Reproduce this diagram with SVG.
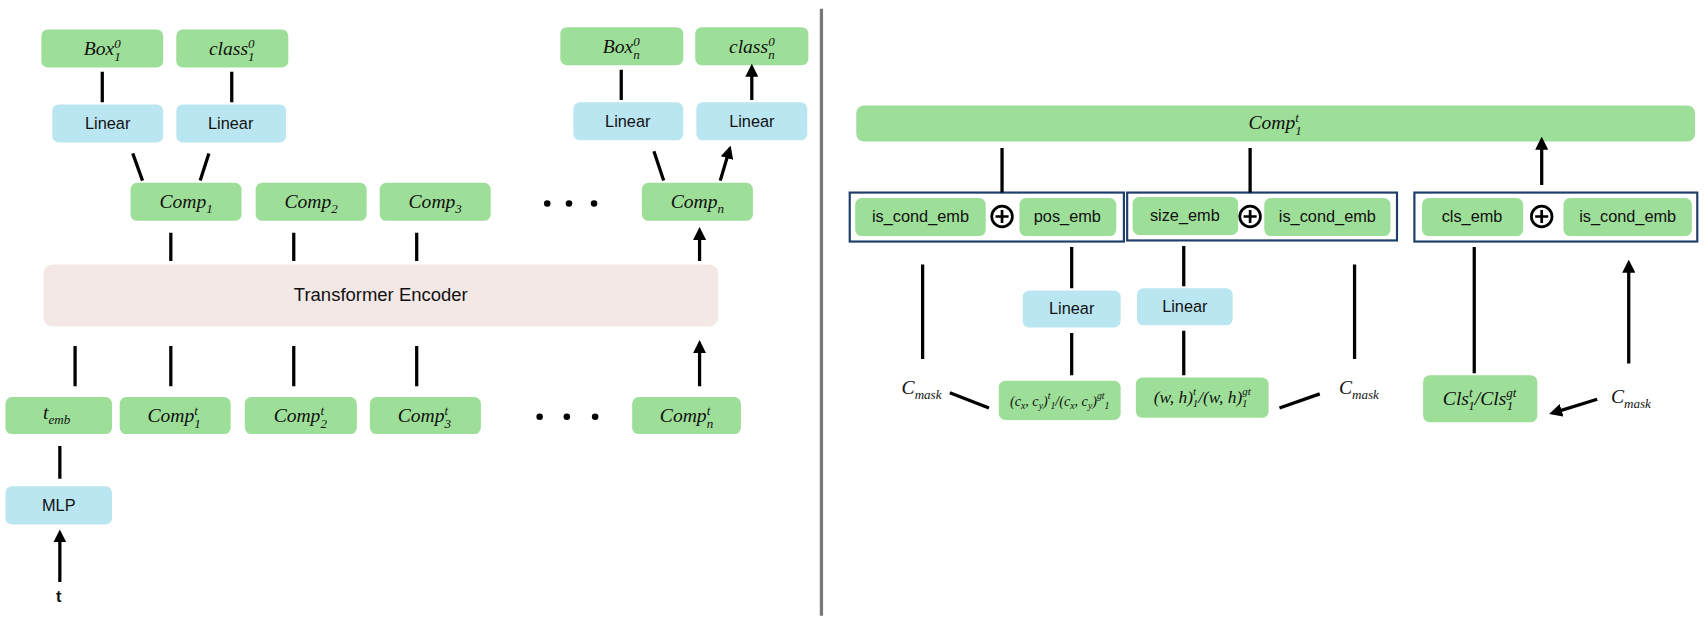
<svg xmlns="http://www.w3.org/2000/svg" width="1706" height="624" viewBox="0 0 1706 624">
<style>
.g{fill:#9ddf98}.b{fill:#b9e6f1}
.s{font-family:"Liberation Sans",Arial,sans-serif;font-size:15px;fill:#111;text-anchor:middle}
.m{font-family:"Liberation Serif","Times New Roman",serif;font-style:italic;font-size:18px;fill:#111;text-anchor:middle}
.sub{font-size:12px}
.ar{stroke:#000;stroke-width:3;fill:none;marker-end:url(#ah)}
.ob{fill:none;stroke:#1f3f6b;stroke-width:2}
</style>
<defs><marker id="ah" markerWidth="4" markerHeight="4" refX="2.2" refY="2" orient="auto"><path d="M0,0L4,2L0,4z" fill="#000"/></marker></defs>
<rect width="1706" height="624" fill="#fff"/>
<g transform="scale(1.088)">
<g id="left">
<g id="box1"><rect class="g" x="38" y="27" width="112" height="35" rx="6"/><text class="m" x="94" y="51">Box<tspan class="sub" dy="5">1</tspan><tspan class="sub" dx="-6" dy="-12">0</tspan></text></g>
<g id="class1"><rect class="g" x="162" y="27" width="103" height="35" rx="6"/><text class="m" x="213" y="51">class<tspan class="sub" dy="5">1</tspan><tspan class="sub" dx="-6" dy="-12">0</tspan></text></g>
<g id="boxn"><rect class="g" x="515" y="25" width="113" height="35" rx="6"/><text class="m" x="571" y="49">Box<tspan class="sub" dy="5">n</tspan><tspan class="sub" dx="-6" dy="-12">0</tspan></text></g>
<g id="classn"><rect class="g" x="639" y="25" width="104" height="35" rx="6"/><text class="m" x="691" y="49">class<tspan class="sub" dy="5">n</tspan><tspan class="sub" dx="-6" dy="-12">0</tspan></text></g>
<g id="lin1"><rect class="b" x="48" y="96" width="102" height="35" rx="6"/><text class="s" x="99" y="119">Linear</text></g>
<g id="lin2"><rect class="b" x="162" y="96" width="101" height="35" rx="6"/><text class="s" x="212" y="119">Linear</text></g>
<g id="lin3"><rect class="b" x="527" y="94" width="101" height="35" rx="6"/><text class="s" x="577" y="117">Linear</text></g>
<g id="lin4"><rect class="b" x="640" y="94" width="102" height="35" rx="6"/><text class="s" x="691" y="117">Linear</text></g>
<g id="comp1"><rect class="g" x="120" y="168" width="102" height="35" rx="6"/><text class="m" x="171" y="191">Comp<tspan class="sub" dy="5">1</tspan></text></g>
<g id="comp2"><rect class="g" x="235" y="168" width="102" height="35" rx="6"/><text class="m" x="286" y="191">Comp<tspan class="sub" dy="5">2</tspan></text></g>
<g id="comp3"><rect class="g" x="349" y="168" width="102" height="35" rx="6"/><text class="m" x="400" y="191">Comp<tspan class="sub" dy="5">3</tspan></text></g>
<g id="compn"><rect class="g" x="590" y="168" width="102" height="35" rx="6"/><text class="m" x="641" y="191">Comp<tspan class="sub" dy="5">n</tspan></text></g>
<g id="dots1" fill="#000"><circle cx="503" cy="187" r="3"/><circle cx="523" cy="187" r="3"/><circle cx="546" cy="187" r="3"/></g>
<g id="encoder"><rect x="40" y="243" width="620" height="57" rx="8" fill="#f3e8e6"/><text class="s" x="350" y="277" style="font-size:17px">Transformer Encoder</text></g>
<g id="temb"><rect class="g" x="5" y="365" width="98" height="34" rx="6"/><text class="m" x="52" y="385">t<tspan class="sub" dy="5">emb</tspan></text></g>
<g id="c1t"><rect class="g" x="110" y="365" width="102" height="34" rx="6"/><text class="m" x="160" y="388">Comp<tspan class="sub" dy="5">1</tspan><tspan class="sub" dx="-6" dy="-12">t</tspan></text></g>
<g id="c2t"><rect class="g" x="225" y="365" width="103" height="34" rx="6"/><text class="m" x="276" y="388">Comp<tspan class="sub" dy="5">2</tspan><tspan class="sub" dx="-6" dy="-12">t</tspan></text></g>
<g id="c3t"><rect class="g" x="340" y="365" width="102" height="34" rx="6"/><text class="m" x="390" y="388">Comp<tspan class="sub" dy="5">3</tspan><tspan class="sub" dx="-6" dy="-12">t</tspan></text></g>
<g id="cnt"><rect class="g" x="581" y="365" width="100" height="34" rx="6"/><text class="m" x="631" y="388">Comp<tspan class="sub" dy="5">n</tspan><tspan class="sub" dx="-6" dy="-12">t</tspan></text></g>
<g id="dots2" fill="#000"><circle cx="496" cy="383" r="3"/><circle cx="521" cy="383" r="3"/><circle cx="547" cy="383" r="3"/></g>
<g id="mlp"><rect class="b" x="5" y="447" width="98" height="35" rx="6"/><text class="s" x="54" y="470">MLP</text></g>
<text id="t" class="s" x="54" y="553" style="font-weight:bold">t</text>
</g>
<line x1="755" y1="8" x2="755" y2="566" stroke="#777" stroke-width="3"/>
<g id="right">
<g id="comptop"><rect class="g" x="787" y="97" width="771" height="33" rx="7"/><text class="m" x="1172" y="119">Comp<tspan class="sub" dy="5">1</tspan><tspan class="sub" dx="-6" dy="-12">t</tspan></text></g>
<g id="grp1"><rect class="ob" x="781" y="177" width="252" height="45"/>
<rect class="g" x="786" y="182" width="120" height="35" rx="6"/><text class="s" x="846" y="204">is_cond_emb</text>
<rect class="g" x="937" y="182" width="89" height="35" rx="6"/><text class="s" x="981" y="204">pos_emb</text></g>
<g id="grp2"><rect class="ob" x="1036" y="177" width="248" height="44"/>
<rect class="g" x="1041" y="181" width="97" height="35" rx="6"/><text class="s" x="1089" y="203">size_emb</text>
<rect class="g" x="1162" y="182" width="116" height="35" rx="6"/><text class="s" x="1220" y="204">is_cond_emb</text></g>
<g id="grp3"><rect class="ob" x="1300" y="177" width="260" height="45"/>
<rect class="g" x="1307" y="182" width="93" height="35" rx="6"/><text class="s" x="1353" y="204">cls_emb</text>
<rect class="g" x="1437" y="182" width="118" height="35" rx="6"/><text class="s" x="1496" y="204">is_cond_emb</text></g>
<g id="plus" stroke="#000" stroke-width="2.5" fill="#fff">
<circle cx="921" cy="199" r="9.5"/><path d="M915,199h12M921,193v12"/>
<circle cx="1149" cy="199" r="9.5"/><path d="M1143,199h12M1149,193v12"/>
<circle cx="1417" cy="199" r="9.5"/><path d="M1411,199h12M1417,193v12"/></g>
<g id="linA"><rect class="b" x="940" y="267" width="90" height="34" rx="6"/><text class="s" x="985" y="289">Linear</text></g>
<g id="linB"><rect class="b" x="1045" y="265" width="88" height="34" rx="6"/><text class="s" x="1089" y="287">Linear</text></g>
<g id="cxcy"><rect class="g" x="918" y="350" width="112" height="36" rx="6"/><text class="m" x="974" y="373" style="font-size:13px">(c<tspan class="sub" style="font-size:9px" dy="3">x</tspan><tspan dy="-3">, c</tspan><tspan style="font-size:9px" dy="3">y</tspan><tspan dy="-3">)</tspan><tspan style="font-size:9px" dy="-6">t</tspan><tspan style="font-size:9px" dy="9">1</tspan><tspan dy="-3">/(c</tspan><tspan style="font-size:9px" dy="3">x</tspan><tspan dy="-3">, c</tspan><tspan style="font-size:9px" dy="3">y</tspan><tspan dy="-3">)</tspan><tspan style="font-size:9px" dy="-6">gt</tspan><tspan style="font-size:9px" dy="9">1</tspan></text></g>
<g id="wh"><rect class="g" x="1044" y="347" width="122" height="37" rx="6"/><text class="m" x="1105" y="370" style="font-size:16px">(w, h)<tspan class="sub" style="font-size:10px" dy="-7">t</tspan><tspan class="sub" style="font-size:10px" dx="-3" dy="11">1</tspan><tspan dy="-4">/(w, h)</tspan><tspan class="sub" style="font-size:10px" dy="-7">gt</tspan><tspan class="sub" style="font-size:10px" dx="-8" dy="11">1</tspan></text></g>
<g id="cls"><rect class="g" x="1308" y="345" width="105" height="43" rx="6"/><text class="m" x="1360" y="372">Cls<tspan class="sub" dy="-7">t</tspan><tspan class="sub" dx="-4" dy="12">1</tspan><tspan dy="-5">/Cls</tspan><tspan class="sub" dy="-7">gt</tspan><tspan class="sub" dx="-9" dy="12">1</tspan></text></g>
<text class="m" x="847" y="362">C<tspan class="sub" dy="5">mask</tspan></text>
<text class="m" x="1249" y="362">C<tspan class="sub" dy="5">mask</tspan></text>
<text class="m" x="1499" y="370">C<tspan class="sub" dy="5">mask</tspan></text>
</g>
<g id="connectors">
<path class="ar" d="M94,94V66M213,94V66M571,92V64M691,92V64"/>
<path class="ar" d="M131,166L122,141M184,166L192,141M610,166L601,139M662,166L670,139"/>
<path class="ar" d="M157,240V214M270,240V214M383,240V214M643,240V214"/>
<path class="ar" d="M69,355V318M157,355V318M270,355V318M383,355V318M643,355V318"/>
<path class="ar" d="M55,440V410M55,535V492"/>
<path class="ar" d="M921,177V136M1149,177V136M1417,170V131"/>
<path class="ar" d="M848,330V243M985,265V227M985,345V306M1088,263V226M1088,345V304M1245,330V243M1355,343V227M1497,334V244"/>
<path class="ar" d="M873,361L909,375M1213,362L1176,375M1468,367L1429,379"/>
</g>
</g>
</svg>
